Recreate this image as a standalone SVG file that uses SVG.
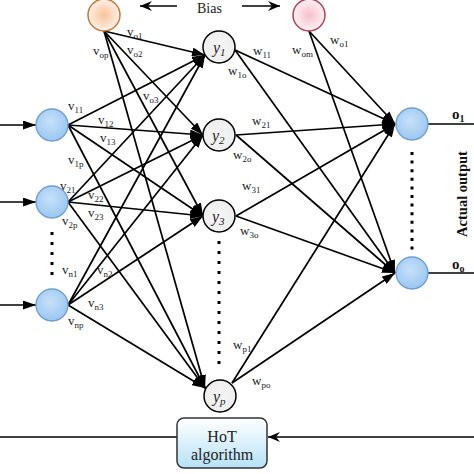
<svg xmlns="http://www.w3.org/2000/svg" width="474" height="474" viewBox="0 0 474 474">
<style>
.c{stroke:#000;stroke-width:1.7;fill:none}
.a{marker-end:url(#ah)}
.lb{font-family:"Liberation Serif",serif;font-size:13px;fill:#222}
.lb tspan{font-size:9px}
.hy{font-family:"Liberation Serif",serif;font-style:italic;font-size:16px;fill:#222}
.bd{font-family:"Liberation Serif",serif;font-weight:bold;fill:#111}
.io{fill:url(#gb);stroke:#6d9ed3;stroke-width:1.3}
.hd{fill:url(#gh);stroke:#000;stroke-width:1.5}
.dot{stroke:#000;stroke-width:3;fill:none}
</style>
<defs>
<marker id="ah" markerUnits="userSpaceOnUse" markerWidth="13" markerHeight="9" refX="13" refY="4.5" orient="auto"><path d="M0,0 L13,4.5 L0,9 z" fill="#000"/></marker>
<marker id="oa" markerUnits="userSpaceOnUse" markerWidth="12" markerHeight="10" refX="12" refY="5" orient="auto"><path d="M0,0 L12,5 L0,10 L4,5 z" fill="#000"/></marker>
<radialGradient id="gb" cx="0.45" cy="0.4" r="0.6"><stop offset="0" stop-color="#c6e1fa"/><stop offset="1" stop-color="#9cc7f0"/></radialGradient>
<radialGradient id="gh" cx="0.5" cy="0.5" r="0.6"><stop offset="0" stop-color="#f6f6f6"/><stop offset="1" stop-color="#ececec"/></radialGradient>
<radialGradient id="go" cx="0.5" cy="0.5" r="0.55"><stop offset="0" stop-color="#f8c29a"/><stop offset="1" stop-color="#fff6ef"/></radialGradient>
<radialGradient id="gp" cx="0.5" cy="0.5" r="0.55"><stop offset="0" stop-color="#f6c0cc"/><stop offset="1" stop-color="#fff6f8"/></radialGradient>
<linearGradient id="gx" x1="0" y1="0" x2="0" y2="1"><stop offset="0" stop-color="#ffffff"/><stop offset="1" stop-color="#b5e2f6"/></linearGradient>
</defs>

<g id="connectors">
<line class="c" x1="177" y1="6" x2="140" y2="6" marker-end="url(#oa)"/>
<line class="c" x1="242" y1="6" x2="280" y2="6" marker-end="url(#oa)"/>
<line class="c a" x1="0" y1="125" x2="36" y2="125"/>
<line class="c a" x1="0" y1="202" x2="36" y2="202"/>
<line class="c a" x1="0" y1="305" x2="36" y2="305"/>
<line class="c a" x1="104" y1="31" x2="205" y2="55"/>
<line class="c a" x1="104" y1="31" x2="203" y2="135"/>
<line class="c a" x1="104" y1="31" x2="203" y2="216"/>
<line class="c a" x1="104" y1="31" x2="205" y2="388"/>
<line class="c a" x1="68" y1="125" x2="205" y2="55"/>
<line class="c a" x1="68" y1="125" x2="203" y2="135"/>
<line class="c a" x1="68" y1="125" x2="203" y2="216"/>
<line class="c a" x1="68" y1="125" x2="205" y2="388"/>
<line class="c a" x1="68" y1="202" x2="205" y2="55"/>
<line class="c a" x1="68" y1="202" x2="203" y2="135"/>
<line class="c a" x1="68" y1="202" x2="203" y2="216"/>
<line class="c a" x1="68" y1="202" x2="205" y2="388"/>
<line class="c a" x1="68" y1="305" x2="205" y2="55"/>
<line class="c a" x1="68" y1="305" x2="203" y2="135"/>
<line class="c a" x1="68" y1="305" x2="203" y2="216"/>
<line class="c a" x1="68" y1="305" x2="205" y2="388"/>
<line class="c a" x1="235" y1="50" x2="395" y2="124"/>
<line class="c a" x1="235" y1="50" x2="395" y2="273"/>
<line class="c a" x1="236" y1="135" x2="395" y2="124"/>
<line class="c a" x1="236" y1="135" x2="395" y2="273"/>
<line class="c a" x1="236" y1="216" x2="395" y2="124"/>
<line class="c a" x1="236" y1="216" x2="395" y2="273"/>
<line class="c a" x1="232" y1="383" x2="395" y2="124"/>
<line class="c a" x1="232" y1="383" x2="395" y2="273"/>
<line class="c a" x1="309" y1="31" x2="395" y2="124"/>
<line class="c a" x1="309" y1="31" x2="395" y2="273"/>
<line class="c" x1="428" y1="124" x2="474" y2="124"/>
<line class="c" x1="428" y1="273" x2="474" y2="273"/>
<line class="c" x1="0" y1="437" x2="177" y2="437"/>
<line class="c" x1="474" y1="437" x2="268" y2="437" marker-end="url(#oa)"/>
</g>

<g id="dots">
<line class="dot" x1="52" y1="232" x2="52" y2="275" stroke-dasharray="3 7"/>
<line class="dot" x1="219" y1="241" x2="219" y2="367" stroke-dasharray="3 7"/>
<line class="dot" x1="412" y1="152" x2="412" y2="251" stroke-dasharray="3 5.6"/>
</g>

<g id="bias-in"><circle cx="104" cy="15" r="16" fill="url(#go)" stroke="#c47a3c" stroke-width="1.5"/></g>
<g id="bias-hidden"><circle cx="309" cy="15" r="16" fill="url(#gp)" stroke="#b04456" stroke-width="1.5"/></g>

<g id="input-1"><circle class="io" cx="52" cy="125" r="16"/></g>
<g id="input-2"><circle class="io" cx="52" cy="202" r="16"/></g>
<g id="input-n"><circle class="io" cx="52" cy="305" r="16"/></g>

<g id="hidden-1"><circle class="hd" cx="219" cy="47" r="16"/><text class="hy" x="213" y="53">y<tspan font-size="11" dy="3">1</tspan></text></g>
<g id="hidden-2"><circle class="hd" cx="219" cy="135" r="16"/><text class="hy" x="212" y="141">y<tspan font-size="11" dy="3">2</tspan></text></g>
<g id="hidden-3"><circle class="hd" cx="219" cy="216" r="16"/><text class="hy" x="212" y="222">y<tspan font-size="11" dy="3">3</tspan></text></g>
<g id="hidden-p"><circle class="hd" cx="220" cy="396" r="16"/><text class="hy" x="213" y="402">y<tspan font-size="11" dy="3">p</tspan></text></g>

<g id="output-1"><circle class="io" cx="412" cy="124" r="16"/></g>
<g id="output-o"><circle class="io" cx="412" cy="273" r="16"/></g>

<g id="hot">
<rect x="177" y="418" width="90" height="50" rx="7" fill="url(#gx)" stroke="#333" stroke-width="1.5"/>
<text x="222" y="442" text-anchor="middle" font-family="Liberation Serif, serif" font-size="16" fill="#222">HoT</text>
<text x="222" y="460" text-anchor="middle" font-family="Liberation Serif, serif" font-size="16" fill="#222">algorithm</text>
</g>

<g id="texts">
<text x="197" y="12.5" font-family="Liberation Serif, serif" font-size="14" fill="#222">Bias</text>
<text class="bd" x="452" y="119" font-size="15">o<tspan font-size="10" dy="3">1</tspan></text>
<text class="bd" x="452" y="269" font-size="15">o<tspan font-size="10" dy="3">o</tspan></text>
<text class="bd" font-size="14.5" text-anchor="middle" transform="translate(467,194) rotate(-90)">Actual output</text>

<text class="lb" x="127" y="36">v<tspan dy="3">o1</tspan></text>
<text class="lb" x="127" y="54">v<tspan dy="3">o2</tspan></text>
<text class="lb" x="93" y="55">v<tspan dy="3">op</tspan></text>
<text class="lb" x="143" y="100">v<tspan dy="3">o3</tspan></text>

<text class="lb" x="68" y="110">v<tspan dy="3">11</tspan></text>
<text class="lb" x="98" y="124">v<tspan dy="3">12</tspan></text>
<text class="lb" x="100" y="142">v<tspan dy="3">13</tspan></text>
<text class="lb" x="68" y="164">v<tspan dy="3">1p</tspan></text>

<text class="lb" x="60" y="190">v<tspan dy="3">21</tspan></text>
<text class="lb" x="88" y="199">v<tspan dy="3">22</tspan></text>
<text class="lb" x="88" y="217">v<tspan dy="3">23</tspan></text>
<text class="lb" x="62" y="225">v<tspan dy="3">2p</tspan></text>

<text class="lb" x="62" y="274">v<tspan dy="3">n1</tspan></text>
<text class="lb" x="97" y="274">v<tspan dy="3">n2</tspan></text>
<text class="lb" x="88" y="307">v<tspan dy="3">n3</tspan></text>
<text class="lb" x="68" y="325">v<tspan dy="3">np</tspan></text>

<text class="lb" x="253" y="55">w<tspan dy="3">11</tspan></text>
<text class="lb" x="228" y="75">w<tspan dy="3">1o</tspan></text>
<text class="lb" x="252" y="125">w<tspan dy="3">21</tspan></text>
<text class="lb" x="233" y="159">w<tspan dy="3">2o</tspan></text>
<text class="lb" x="242" y="190">w<tspan dy="3">31</tspan></text>
<text class="lb" x="240" y="235">w<tspan dy="3">3o</tspan></text>
<text class="lb" x="233" y="349">w<tspan dy="3">p1</tspan></text>
<text class="lb" x="252" y="385">w<tspan dy="3">po</tspan></text>
<text class="lb" x="292" y="54">w<tspan dy="3">om</tspan></text>
<text class="lb" x="330" y="44">w<tspan dy="3">o1</tspan></text>
</g>
</svg>
